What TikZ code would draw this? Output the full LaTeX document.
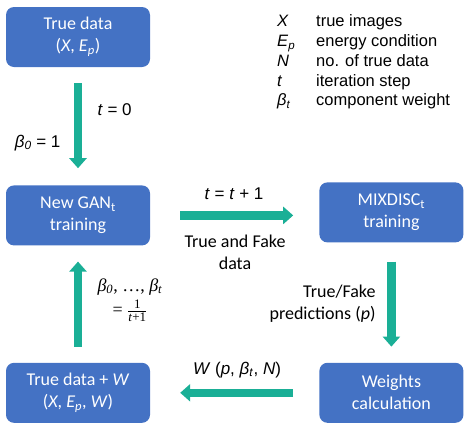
\documentclass[tikz,border=0pt]{standalone}
\usepackage{fontspec}
\setmainfont{Carlito}
\newfontfamily\arialfont{Liberation Sans}
\newfontfamily\timesfont{Liberation Serif}
\newcommand{\fracsize}{\timesfont\fontsize{13}{13}\selectfont}
\usetikzlibrary{arrows.meta,positioning}
\definecolor{boxblue}{HTML}{4472C4}
\definecolor{flowteal}{HTML}{1AAF96}

\begin{document}
\begin{tikzpicture}[
  x=1pt, y=-1pt,
  node distance=118pt and 169pt,
  box/.style={fill=boxblue, rounded corners=8pt, align=center, minimum width=144pt, minimum height=60pt, text=white, font=\fontsize{18}{22}\selectfont},
  lbl/.style={align=center, font=\fontsize{18}{22}\selectfont},
  symlbl/.style={font=\arialfont\fontsize{17}{20}\selectfont},
  arr/.style={draw=flowteal, line width=8.5pt, -{Triangle[width=17pt,length=10pt]}}
]
\useasboundingbox (0,0) rectangle (474,429);

\node[box] (data) at (78,37) {True data\\(\textit{X}, \textit{E}\textsubscript{\textit{p}})};
\node[box, below=of data] (gan) {New GAN\textsubscript{t}\\training};
\node[box, right=of gan, yshift=3pt] (disc) {MIXDISC\textsubscript{t}\\training};
\node[box, below=117pt of gan] (truew) {True data + \textit{W}\\(\textit{X}, \textit{E}\textsubscript{\textit{p}}, \textit{W})};
\node[box, right=of truew] (weights) {Weights\\calculation};

\draw[arr, shorten <=16pt, shorten >=17pt] (data) -- (gan);
\draw[arr, shorten <=30pt, shorten >=26pt] (gan.east) -- (gan.east -| disc.west);
\draw[arr, shorten <=19pt, shorten >=16pt] (disc) -- (weights);
\draw[arr, shorten <=26pt, shorten >=30pt] (weights.west) -- (weights.west -| truew.east);
\draw[arr, shorten <=16pt, shorten >=16pt] (truew) -- (gan);

% arrow labels
\node[symlbl, anchor=west] (tzero) at (94,110) {\textit{t} = 0};
\node[symlbl, anchor=east] (betazero) at (64,143) {\textit{β}\textsubscript{\textit{0}} = 1};
\node[symlbl] (tstep) at (234,194) {\textit{t} = \textit{t} + 1};
\node[lbl] (mixdata) at (235,252) {True and Fake\\data};
\node[lbl, align=right, anchor=east] (preds) at (379,304) {True/Fake\\predictions (\textit{p})};
\node[symlbl] (wlabel) at (237,370) {\textit{W} (\textit{p}, \textit{β}\textsubscript{\textit{t}}, \textit{N})};
\node[lbl, font=\timesfont\fontsize{18}{24}\selectfont] (betaeq) at (130,300)
  {\textit{β}\textsubscript{\textit{0}}, …, \textit{β}\textsubscript{\textit{t}}\\= $\frac{\mbox{\fracsize 1}}{\mbox{\fracsize\textit{t}+1}}$};

% legend
\node[anchor=north west, inner sep=0pt, font=\arialfont\fontsize{16.5}{19.7}\selectfont] (legend) at (277,13) {%
  \begin{tabular}{@{}p{39pt}@{}l@{}}
    \textit{X} & true images\\
    \textit{E}\textsubscript{\textit{p}} & energy condition\\
    \textit{N} & no. of true data\\
    \textit{t} & iteration step\\
    \textit{β}\textsubscript{\textit{t}} & component weight
  \end{tabular}};
\end{tikzpicture}
\end{document}
